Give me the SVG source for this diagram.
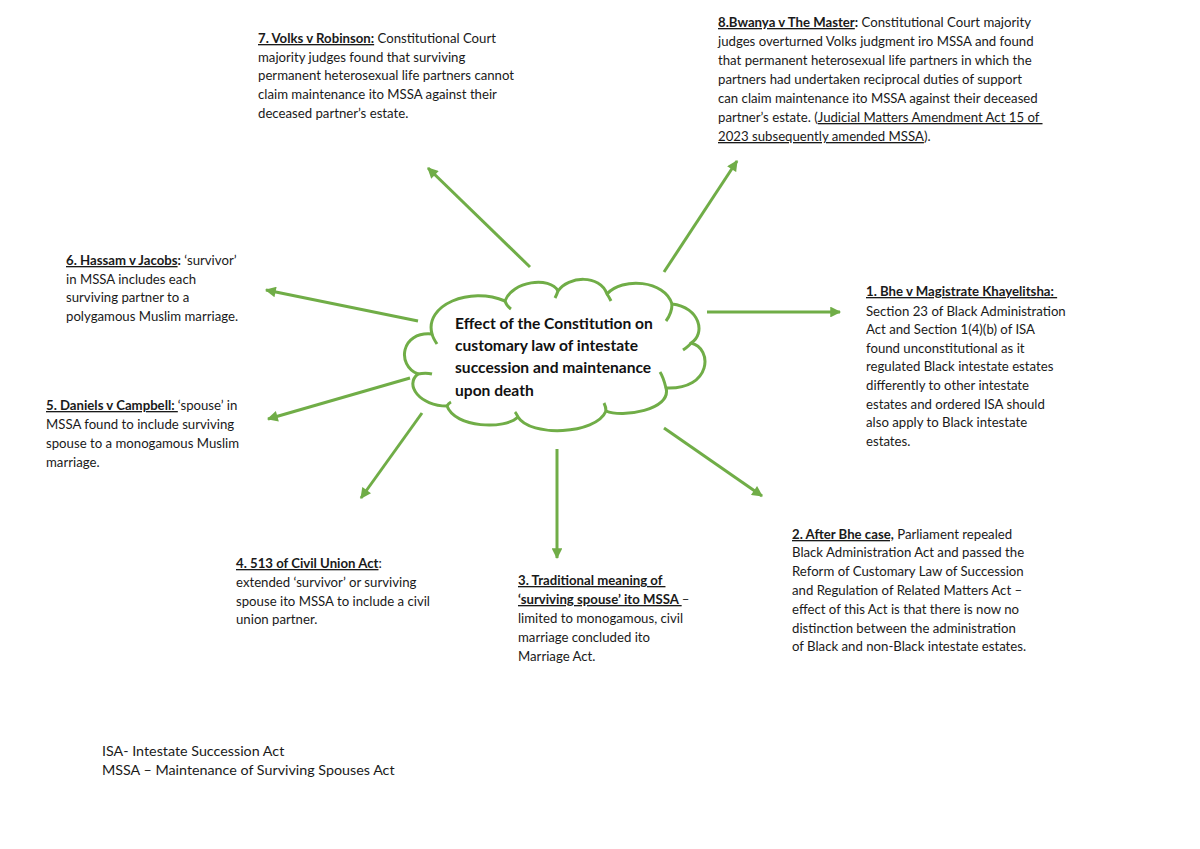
<svg xmlns="http://www.w3.org/2000/svg" width="1200" height="849" viewBox="0 0 1200 849">
<style>
.t{font-family:Lato,"Liberation Sans",sans-serif;font-size:13.2px;fill:#1a1a1a}
.b{font-weight:bold}
.u{text-decoration:underline}
.title{font-family:Lato,"Liberation Sans",sans-serif;font-size:15.6px;font-weight:bold;fill:#111}
.foot{font-family:Lato,"Liberation Sans",sans-serif;font-size:14.3px;fill:#1a1a1a}
.con{stroke:#70AD47;stroke-width:3;fill:none;marker-end:url(#ah)}
.cloud{fill:#fff;stroke:#70AD47;stroke-width:3;stroke-linejoin:round}
.crease{fill:none;stroke:#70AD47;stroke-width:3}
</style>
<defs>
<marker id="ah" viewBox="0 0 10 10" refX="9" refY="5" markerWidth="4" markerHeight="3.6" orient="auto" markerUnits="strokeWidth">
<path d="M0,0 L10,5 L0,10 z" fill="#70AD47"/>
</marker>
</defs>
<rect width="1200" height="849" fill="#fff"/>
<g id="connectors">
<line class="con" x1="707" y1="312" x2="840" y2="312"/>
<line class="con" x1="664" y1="272" x2="737" y2="161"/>
<line class="con" x1="530" y1="267" x2="428" y2="168"/>
<line class="con" x1="418" y1="321" x2="266" y2="290"/>
<line class="con" x1="410" y1="378" x2="268" y2="419"/>
<line class="con" x1="422" y1="413" x2="361" y2="498"/>
<line class="con" x1="557" y1="449" x2="557" y2="558"/>
<line class="con" x1="664" y1="428" x2="762" y2="496"/>
</g>
<g id="center">
<path class="cloud" d="M432,334 C424,305 470,286 505,301 C512,281 550,276 558,291 C568,276 600,274 607,294 C622,277 665,280 672,304 C700,307 706,334 691,343 C713,348 712,390 666,388 C672,410 622,418 606,411 C596,435 530,437 518,417 C505,430 455,428 447,406 C420,406 404,385 418,374 C396,365 401,331 432,334 Z"/>
<path class="crease" d="M432,334 C433,338 435,341 437,344"/>
<path class="crease" d="M505,301 C506,304 508,307 511,309"/>
<path class="crease" d="M558,291 C557,294 556,296 555,298"/>
<path class="crease" d="M607,294 C609,297 610,299 611,301"/>
<path class="crease" d="M672,304 C672,311 669,317 666,321"/>
<path class="crease" d="M691,343 C689,346 686,348 683,350"/>
<path class="crease" d="M666,388 C664,380 662,375 660,372"/>
<path class="crease" d="M606,411 C606,408 605,405 604,403"/>
<path class="crease" d="M518,417 C517,415 516,413 515,412"/>
<path class="crease" d="M447,406 C448,404 449,403 451,402"/>
<path class="crease" d="M418,374 C423,373 428,373 432,374"/>
<text class="title"><tspan x="455" y="329">Effect of the Constitution on</tspan><tspan x="455" y="351">customary law of intestate</tspan><tspan x="455" y="373">succession and maintenance</tspan><tspan x="455" y="396">upon death</tspan></text>
</g>
<g id="node1">
<text class="t"><tspan x="866" y="296" class="b u">1. Bhe v Magistrate Khayelitsha: </tspan><tspan x="866" y="316">Section 23 of Black Administration</tspan><tspan x="866" y="334">Act and Section 1(4)(b) of ISA</tspan><tspan x="866" y="353">found unconstitutional as it</tspan><tspan x="866" y="371">regulated Black intestate estates</tspan><tspan x="866" y="390">differently to other intestate</tspan><tspan x="866" y="409">estates and ordered ISA should</tspan><tspan x="866" y="427">also apply to Black intestate</tspan><tspan x="866" y="446">estates.</tspan></text>
</g>
<g id="node2">
<text class="t"><tspan x="792" y="539"><tspan class="b u">2. After Bhe case,</tspan> Parliament repealed</tspan><tspan x="792" y="557">Black Administration Act and passed the</tspan><tspan x="792" y="576">Reform of Customary Law of Succession</tspan><tspan x="792" y="595">and Regulation of Related Matters Act –</tspan><tspan x="792" y="614">effect of this Act is that there is now no</tspan><tspan x="792" y="633">distinction between the administration</tspan><tspan x="792" y="651">of Black and non-Black intestate estates.</tspan></text>
</g>
<g id="node3">
<text class="t"><tspan x="518" y="585" class="b u">3. Traditional meaning of </tspan><tspan x="518" y="604"><tspan class="b u">‘surviving spouse’ ito MSSA </tspan>–</tspan><tspan x="518" y="623">limited to monogamous, civil</tspan><tspan x="518" y="642">marriage concluded ito</tspan><tspan x="518" y="661">Marriage Act.</tspan></text>
</g>
<g id="node4">
<text class="t"><tspan x="236" y="568"><tspan class="b u">4. 513 of Civil Union Act</tspan>:</tspan><tspan x="236" y="587">extended ‘survivor’ or surviving</tspan><tspan x="236" y="606">spouse ito MSSA to include a civil</tspan><tspan x="236" y="624">union partner.</tspan></text>
</g>
<g id="node5">
<text class="t"><tspan x="46" y="410"><tspan class="b u">5. Daniels v Campbell: </tspan>‘spouse’ in</tspan><tspan x="46" y="429">MSSA found to include surviving</tspan><tspan x="46" y="448">spouse to a monogamous Muslim</tspan><tspan x="46" y="467">marriage.</tspan></text>
</g>
<g id="node6">
<text class="t"><tspan x="66" y="265"><tspan class="b u">6. Hassam v Jacobs</tspan><tspan class="b">:</tspan> ‘survivor’</tspan><tspan x="66" y="284">in MSSA includes each</tspan><tspan x="66" y="302">surviving partner to a</tspan><tspan x="66" y="321">polygamous Muslim marriage.</tspan></text>
</g>
<g id="node7">
<text class="t"><tspan x="258" y="43"><tspan class="b u">7. Volks v Robinson:</tspan> Constitutional Court</tspan><tspan x="258" y="62">majority judges found that surviving</tspan><tspan x="258" y="80">permanent heterosexual life partners cannot</tspan><tspan x="258" y="99">claim maintenance ito MSSA against their</tspan><tspan x="258" y="118">deceased partner’s estate.</tspan></text>
</g>
<g id="node8">
<text class="t"><tspan x="718" y="27"><tspan class="b u">8.Bwanya v The Master</tspan><tspan class="b">:</tspan> Constitutional Court majority</tspan><tspan x="718" y="46">judges overturned Volks judgment iro MSSA and found</tspan><tspan x="718" y="65">that permanent heterosexual life partners in which the</tspan><tspan x="718" y="84">partners had undertaken reciprocal duties of support</tspan><tspan x="718" y="103">can claim maintenance ito MSSA against their deceased</tspan><tspan x="718" y="122">partner’s estate. (<tspan class="u">Judicial Matters Amendment Act 15 of </tspan></tspan><tspan x="718" y="141"><tspan class="u">2023 subsequently amended MSSA</tspan>).</tspan></text>
</g>
<g id="legend">
<text class="foot"><tspan x="102" y="756">ISA- Intestate Succession Act</tspan><tspan x="102" y="775">MSSA – Maintenance of Surviving Spouses Act</tspan></text>
</g>
</svg>
